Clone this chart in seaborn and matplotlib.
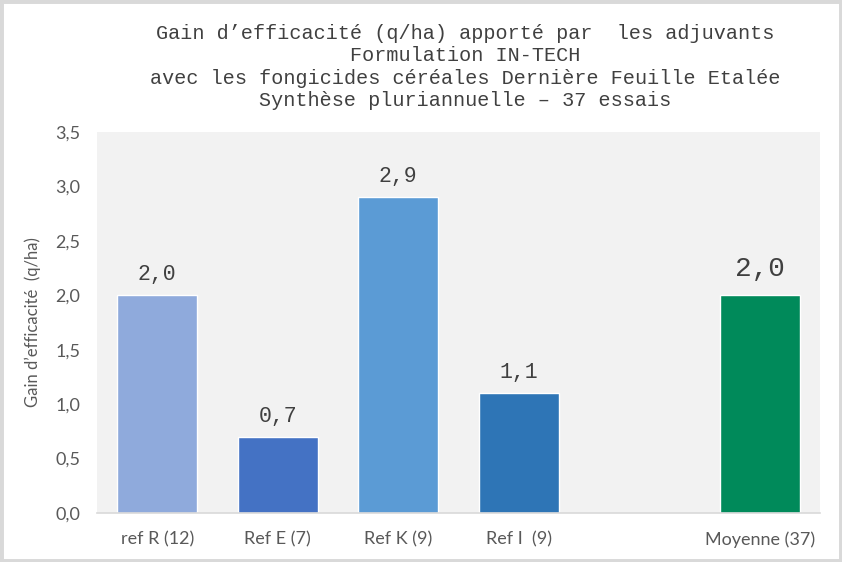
import matplotlib
matplotlib.use("Agg")
import matplotlib.pyplot as plt
import pandas as pd
import seaborn as sns

categories = ["ref R (12)", "Ref E (7)", "Ref K (9)", "Ref I  (9)", " ", "Moyenne (37)"]
gains = [2.0, 0.7, 2.9, 1.1, None, 2.0]
colors = ["#8FAADC", "#4472C4", "#5B9BD5", "#2E75B6", "#FFFFFF", "#008A5A"]
yticks = [0, 0.5, 1.0, 1.5, 2.0, 2.5, 3.0, 3.5]

sns.set_style("white")
plt.rcParams['font.family'] = ['Lato', 'DejaVu Sans']

df = pd.DataFrame({"Bevanda": categories, "Gain": gains}).dropna()

fig = plt.figure(figsize=(8.42, 5.62), dpi=100)
ax = fig.add_axes([0.1152, 0.0872, 0.8587, 0.678])
ax.set_facecolor("#F2F2F2")

sns.barplot(data=df, x="Bevanda", y="Gain", order=categories, hue="Bevanda",
            hue_order=categories, palette=colors, width=0.66, legend=False,
            saturation=1, ax=ax)

ax.set_ylim(0, 3.5)
ax.set_yticks(yticks)
ax.set_yticklabels([f"{v:.1f}".replace(".", ",") for v in yticks],
                   fontsize=13, color="#595959")
ax.set_xticks(range(len(categories)))
ax.set_xticklabels(categories, fontsize=13, color="#595959")
ax.tick_params(axis="both", length=0)
ax.tick_params(axis="x", pad=13)
ax.tick_params(axis="y", pad=12)
ax.set_xlabel("")
ax.set_ylabel("Gain d\u2019efficacité  (q/ha)", fontsize=12, color="#595959", labelpad=10)

for s in ["top", "right", "left"]:
    ax.spines[s].set_visible(False)
ax.spines["bottom"].set_color("#D9D9D9")
ax.spines["bottom"].set_linewidth(1.2)

for i, v in enumerate(gains):
    if v is None:
        continue
    big = categories[i].startswith("Moyenne")
    ax.text(i, v + (0.12 if big else 0.09), f"{v:.1f}".replace(".", ","),
            ha="center", va="bottom", family="Liberation Mono",
            fontsize=20 if big else 15.5, color="#404040")

title = ("Gain d\u2019efficacité (q/ha) apporté par  les adjuvants\n"
         "Formulation IN-TECH\n"
         "avec les fongicides céréales Dernière Feuille Etalée\n"
         "Synthèse pluriannuelle \u2013 37 essais")
fig.text(0.552, 0.957, title, ha="center", va="top", family="Liberation Mono",
         fontsize=14.5, color="#404040", linespacing=1.22)

fig.patches.append(matplotlib.patches.Rectangle((0, 0), 1, 1, transform=fig.transFigure,
                                                fill=False, edgecolor="#D9D9D9",
                                                linewidth=5))

fig.savefig("out.png", dpi=100)
